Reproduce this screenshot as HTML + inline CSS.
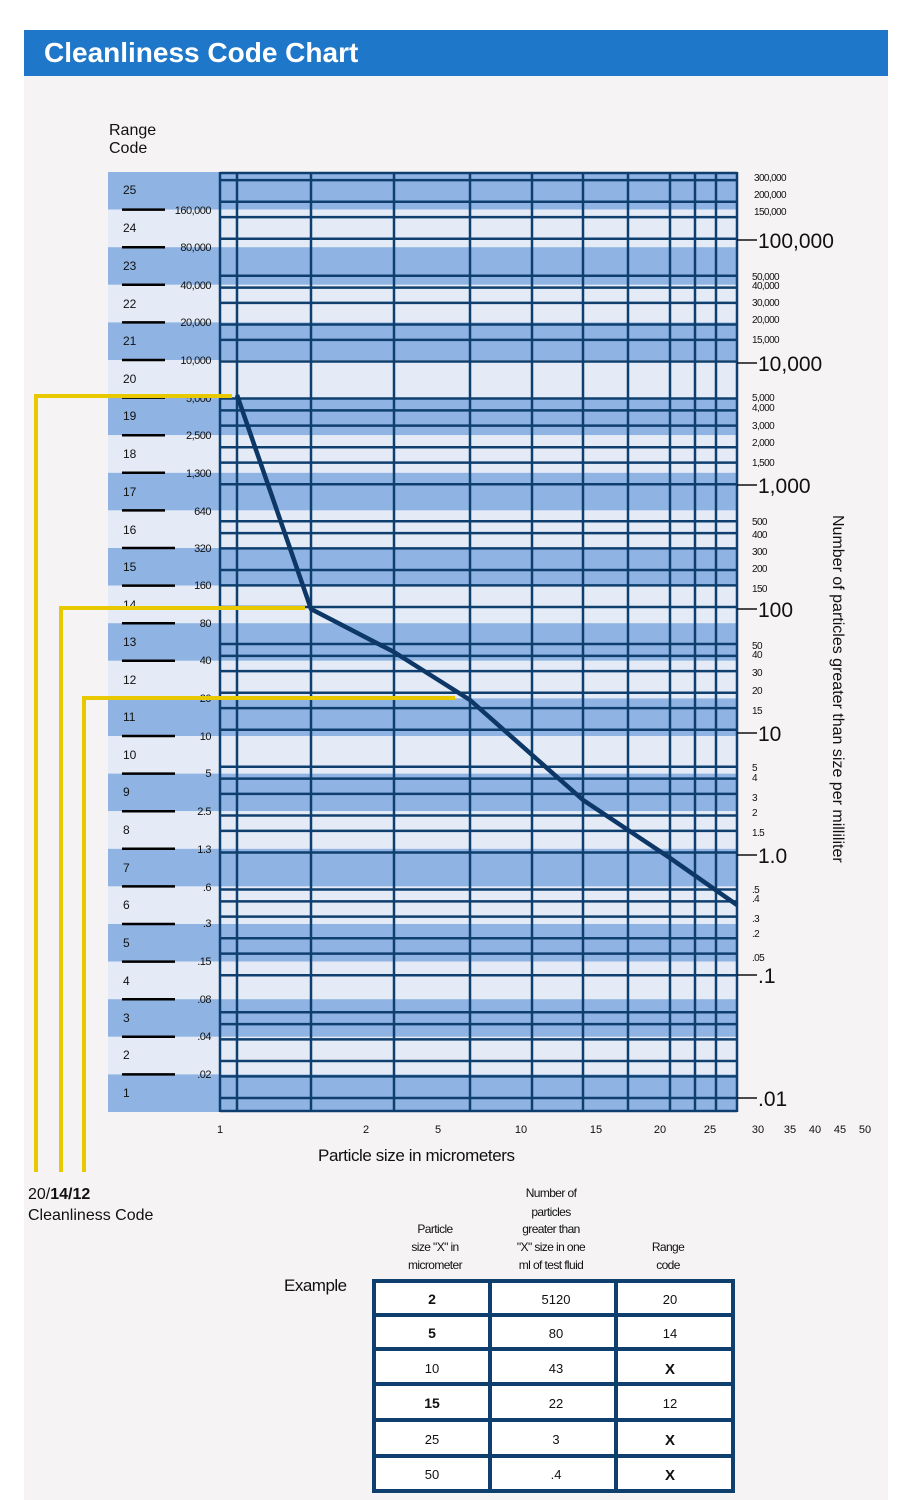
<!DOCTYPE html>
<html><head><meta charset="utf-8"><style>
body{margin:0;background:#fff;}
svg{display:block;font-family:"Liberation Sans",sans-serif;}
</style></head><body>
<svg width="901" height="1500" viewBox="0 0 901 1500" xmlns="http://www.w3.org/2000/svg">
<rect x="24" y="30" width="864" height="1470" fill="#f5f3f4"/>
<rect x="24" y="30" width="864" height="46" fill="#1f77c9"/>
<text x="44" y="62" font-size="28" font-weight="bold" fill="#fff">Cleanliness Code Chart</text>
<text x="109" y="135" font-size="16" fill="#111">Range</text>
<text x="109" y="153" font-size="16" fill="#111">Code</text>
<g id="bands"></g>
<g id="grid" stroke="#0e3f6e" stroke-width="2.5" fill="none"></g>
<g id="lt" stroke="#000" stroke-width="2.5"></g>
<g font-size="11" fill="#111" text-anchor="end" letter-spacing="-0.5">
<text x="211" y="214">160,000</text><text x="211" y="251">80,000</text><text x="211" y="289">40,000</text><text x="211" y="326">20,000</text><text x="211" y="364">10,000</text><text x="211" y="402">5,000</text><text x="211" y="439">2,500</text><text x="211" y="477">1,300</text><text x="211" y="515">640</text><text x="211" y="552">320</text><text x="211" y="589">160</text><text x="211" y="627">80</text><text x="211" y="664">40</text><text x="211" y="702">20</text><text x="211" y="740">10</text><text x="211" y="777">5</text><text x="211" y="815">2.5</text><text x="211" y="853">1.3</text><text x="211" y="891">.6</text><text x="211" y="927">.3</text><text x="211" y="965">.15</text><text x="211" y="1003">.08</text><text x="211" y="1040">.04</text><text x="211" y="1078">.02</text>
</g>
<g font-size="12" fill="#111">
<text x="123" y="194">25</text><text x="123" y="232">24</text><text x="123" y="270">23</text><text x="123" y="308">22</text><text x="123" y="345">21</text><text x="123" y="383">20</text><text x="123" y="420">19</text><text x="123" y="458">18</text><text x="123" y="496">17</text><text x="123" y="534">16</text><text x="123" y="571">15</text><text x="123" y="609">14</text><text x="123" y="646">13</text><text x="123" y="684">12</text><text x="123" y="721">11</text><text x="123" y="759">10</text><text x="123" y="796">9</text><text x="123" y="834">8</text><text x="123" y="872">7</text><text x="123" y="909">6</text><text x="123" y="947">5</text><text x="123" y="985">4</text><text x="123" y="1022">3</text><text x="123" y="1059">2</text><text x="123" y="1097">1</text>
</g>
<g stroke="#111" stroke-width="1.5">
<line x1="737" y1="240" x2="757" y2="240"/><line x1="737" y1="363" x2="757" y2="363"/><line x1="737" y1="485" x2="757" y2="485"/><line x1="737" y1="609" x2="757" y2="609"/><line x1="737" y1="733" x2="757" y2="733"/><line x1="737" y1="855" x2="757" y2="855"/><line x1="737" y1="975" x2="757" y2="975"/><line x1="737" y1="1098" x2="757" y2="1098"/>
</g>
<g font-size="21" fill="#111">
<text x="758" y="248">100,000</text><text x="758" y="371">10,000</text><text x="758" y="493">1,000</text><text x="758" y="617">100</text><text x="758" y="741">10</text><text x="758" y="863">1.0</text><text x="758" y="983">.1</text><text x="758" y="1106">.01</text>
</g>
<g font-size="10" fill="#111" letter-spacing="-0.6">
<text x="754" y="181">300,000</text><text x="754" y="198">200,000</text><text x="754" y="215">150,000</text>
<text x="752" y="280">50,000</text><text x="752" y="289">40,000</text><text x="752" y="306">30,000</text><text x="752" y="323">20,000</text><text x="752" y="343">15,000</text>
<text x="752" y="401">5,000</text><text x="752" y="411">4,000</text><text x="752" y="429">3,000</text><text x="752" y="446">2,000</text><text x="752" y="466">1,500</text>
<text x="752" y="525">500</text><text x="752" y="538">400</text><text x="752" y="555">300</text><text x="752" y="572">200</text><text x="752" y="592">150</text>
<text x="752" y="649">50</text><text x="752" y="658">40</text><text x="752" y="676">30</text><text x="752" y="694">20</text><text x="752" y="714">15</text>
<text x="752" y="771">5</text><text x="752" y="781">4</text><text x="752" y="801">3</text><text x="752" y="816">2</text><text x="752" y="836">1.5</text>
<text x="752" y="893">.5</text><text x="752" y="902">.4</text><text x="752" y="922">.3</text><text x="752" y="937">.2</text><text x="752" y="961">.05</text>
</g>
<text transform="translate(833,515) rotate(90)" font-size="16" fill="#111">Number of particles greater than size per milliliter</text>
<g font-size="11" fill="#111" text-anchor="middle">
<text x="220" y="1133">1</text><text x="366" y="1133">2</text><text x="438" y="1133">5</text><text x="521" y="1133">10</text><text x="596" y="1133">15</text><text x="660" y="1133">20</text><text x="710" y="1133">25</text><text x="758" y="1133">30</text><text x="790" y="1133">35</text><text x="815" y="1133">40</text><text x="840" y="1133">45</text><text x="865" y="1133">50</text>
</g>
<text x="318" y="1161" font-size="17" fill="#111" letter-spacing="-0.4">Particle size in micrometers</text>
<polyline points="237,395 311,609 394,652 470,700 583,800 670,858 737,905" fill="none" stroke="#0d3766" stroke-width="4.5" stroke-linejoin="round"/>
<g stroke="#e8c900" stroke-width="4" fill="none">
<polyline points="36,1172 36,396 232,396"/>
<polyline points="61,1172 61,608 305,608"/>
<polyline points="84,1172 84,698 455,698"/>
</g>
<text x="28" y="1199" font-size="16" fill="#111">20/<tspan font-weight="bold">14/12</tspan></text>
<text x="28" y="1220" font-size="16" fill="#111">Cleanliness Code</text>
<text x="284" y="1291" font-size="17" fill="#111" letter-spacing="-0.5">Example</text>
<g font-size="12" fill="#111" text-anchor="middle" letter-spacing="-0.6">
<text x="435" y="1233">Particle</text><text x="435" y="1251">size "X" in</text><text x="435" y="1269">micrometer</text>
<text x="551" y="1197">Number of</text><text x="551" y="1216">particles</text><text x="551" y="1233">greater than</text><text x="551" y="1251">"X" size in one</text><text x="551" y="1269">ml of test fluid</text>
<text x="668" y="1251">Range</text><text x="668" y="1269">code</text>
</g>
<rect x="374" y="1281" width="359" height="210" fill="#fff" stroke="#0e3f6e" stroke-width="4"/>
<g stroke="#0e3f6e" stroke-width="4">
<line x1="490" y1="1281" x2="490" y2="1491"/><line x1="616" y1="1281" x2="616" y2="1491"/>
<line x1="374" y1="1315" x2="733" y2="1315"/><line x1="374" y1="1349" x2="733" y2="1349"/><line x1="374" y1="1384" x2="733" y2="1384"/><line x1="374" y1="1420" x2="733" y2="1420"/><line x1="374" y1="1456" x2="733" y2="1456"/>
</g>
<g font-size="13" fill="#111" text-anchor="middle">
<text x="432" y="1304" font-weight="bold" font-size="14">2</text><text x="556" y="1304">5120</text><text x="670" y="1304">20</text>
<text x="432" y="1338" font-weight="bold" font-size="14">5</text><text x="556" y="1338">80</text><text x="670" y="1338">14</text>
<text x="432" y="1373">10</text><text x="556" y="1373">43</text><text x="670" y="1374" font-weight="bold" font-size="15">X</text>
<text x="432" y="1408" font-weight="bold" font-size="14">15</text><text x="556" y="1408">22</text><text x="670" y="1408">12</text>
<text x="432" y="1444">25</text><text x="556" y="1444">3</text><text x="670" y="1445" font-weight="bold" font-size="15">X</text>
<text x="432" y="1479">50</text><text x="556" y="1479">.4</text><text x="670" y="1480" font-weight="bold" font-size="15">X</text>
</g>
<script>
(function(){
var NS="http://www.w3.org/2000/svg";
function el(p,t,a){var e=document.createElementNS(NS,t);for(var k in a)e.setAttribute(k,a[k]);p.appendChild(e);return e;}
var b=document.getElementById('bands'),g=document.getElementById('grid'),lt=document.getElementById('lt');
for(var i=0;i<25;i++){var c=25-i;var y=172+37.6*i;
 el(b,'rect',{x:108,y:y,width:629,height:37.6,fill:(c%2)?'#8fb4e3':'#e4ebf6'});}
for(var k=1;k<25;k++){var y=172+37.6*k;el(lt,'line',{x1:122,y1:y,x2:(k<10?165:175),y2:y});}
var ds=[1,1.5,2,3,4,5];
for(var e=-2;e<=5;e++){ds.forEach(function(d){var v=d*Math.pow(10,e);var y=1098-(Math.log10(v)+2)*122.75;
 if(y>=172&&y<=1112)el(g,'line',{x1:220,y1:y,x2:737,y2:y});});}
[220,237,311,394,470,532,583,628,670,695,716,737].forEach(function(x){el(g,'line',{x1:x,y1:172,x2:x,y2:1112});});
el(g,'line',{x1:220,y1:173,x2:737,y2:173});el(g,'line',{x1:220,y1:1111,x2:737,y2:1111});
})();
</script>
</svg>
</body></html>
